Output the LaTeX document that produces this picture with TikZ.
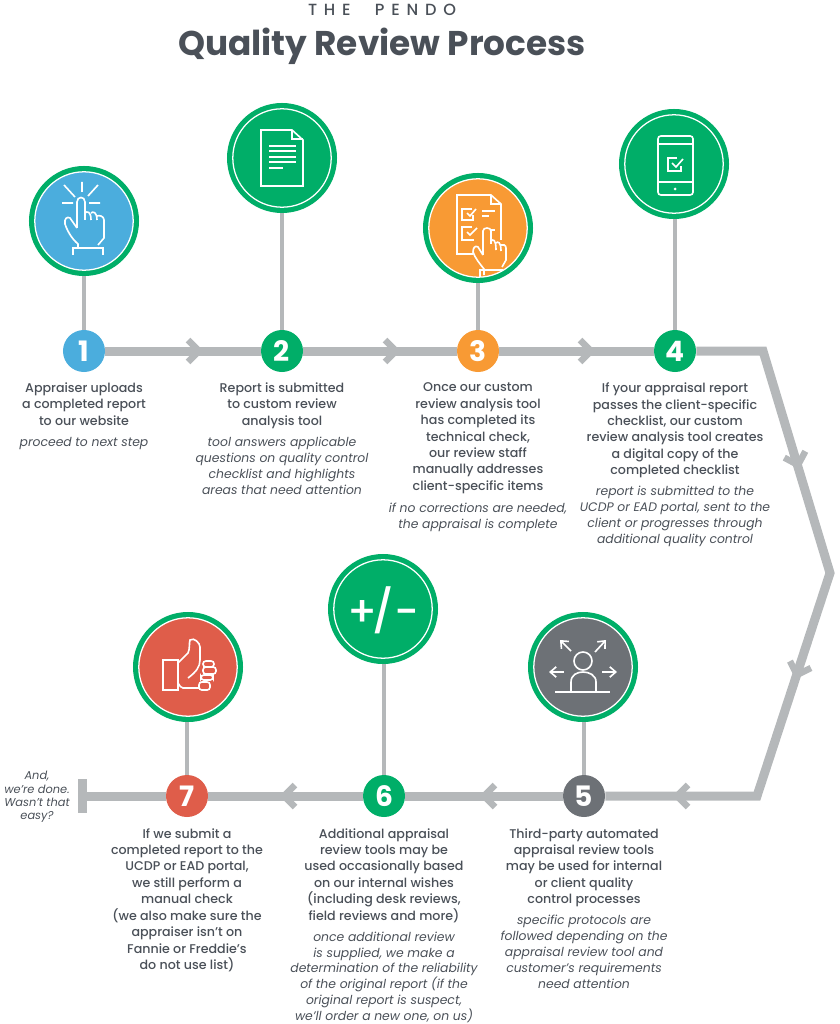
\documentclass[tikz,border=0pt]{standalone}
\usepackage{fontspec}
\setmainfont{Poppins}[UprightFont=* Medium, BoldFont=* Bold, ItalicFont=* Italic]
\usetikzlibrary{arrows.meta}
\definecolor{trackgray}{HTML}{B5B8BA}
\definecolor{ringgreen}{HTML}{00AE68}
\definecolor{clickblue}{HTML}{4BADDD}
\definecolor{checkorange}{HTML}{F89A34}
\definecolor{thumbred}{HTML}{DF5D4A}
\definecolor{peoplegray}{HTML}{6D7176}
\definecolor{bodytext}{HTML}{4A5058}
\tikzset{
	iconring/.style={circle, fill=ringgreen, inner sep=0, minimum size=2.75cm},
	icondisc/.style={circle, draw=white, line width=0.9pt, inner sep=0, minimum size=2.46cm},
	iconline/.style={draw=white, line width=1.15pt, line join=miter},
	stemline/.style={draw=trackgray, line width=2.5pt},
	trackline/.style={draw=trackgray, line width=6.4pt, line join=miter},
	chevronline/.style={draw=trackgray, line width=4.6pt},
	stepdot/.style={circle, inner sep=0, minimum size=1.05cm, text=white, font=\fontsize{20}{20}\selectfont\bfseries},
	bodyblock/.style={anchor=north, align=center, inner sep=0, text=bodytext, font=\fontsize{9}{11.7}\selectfont},
	noteblock/.style={anchor=north, align=center, inner sep=0, text=bodytext, font=\fontsize{8.8}{11.3}\selectfont\itshape},
}
\def\chevron(#1)(#2){\draw[chevronline, shift={(#1)}, rotate=#2] (-11,-11) -- (0,0) -- (-11,11);}
\begin{document}
\begin{tikzpicture}[x=0.025cm, y=-0.025cm]
		%%%%% START %%%%%
		\useasboundingbox (0,0) rectangle (840,1024);
		
		\node[inner sep=0, text=bodytext, font=\fontsize{11.5}{12}\selectfont\addfontfeature{LetterSpace=42}] (kicker) at (382,10) {THE\hspace{1.5em}PENDO};
		\node[inner sep=0, text=bodytext, font=\fontsize{24.4}{25}\selectfont\bfseries] (heading) at (382,46) {Quality Review Process};
		
		\node[stepdot, fill=clickblue] (s1) at (84,351) {1};
		\node[stepdot, fill=ringgreen] (s2) at (282,351) {2};
		\node[stepdot, fill=checkorange] (s3) at (478,351) {3};
		\node[stepdot, fill=ringgreen] (s4) at (675,351) {4};
		\node[stepdot, fill=peoplegray] (s5) at (584,796) {5};
		\node[stepdot, fill=ringgreen] (s6) at (384,796) {6};
		\node[stepdot, fill=thumbred] (s7) at (187,796) {7};
		\node[fill=trackgray, inner sep=0, minimum width=0.22cm, minimum height=0.86cm] (endbar) at (82.5,796) {};
		
		\coordinate (bendA) at (763,351);
		\coordinate (bendB) at (830,573);
		\coordinate (bendC) at (757,796);
		
		\draw[trackline] (s1) -- (s2);
		\draw[trackline] (s2) -- (s3);
		\draw[trackline] (s3) -- (s4);
		\draw[trackline] (s4) -- (bendA) -- (bendB) -- (bendC) -- (s5);
		\draw[trackline] (s5) -- (s6);
		\draw[trackline] (s6) -- (s7);
		\draw[trackline] (s7) -- (endbar);
		
		\chevron(199,351)(0);
		\chevron(396,351)(0);
		\chevron(591,351)(0);
		\chevron(798,465)(-73.2);
		\chevron(797,675)(-108.1);
		\chevron(677,796)(180);
		\chevron(484,796)(180);
		\chevron(284,796)(180);
		
		\node[iconring] (ic1) at (84,221) {};
		\node[icondisc, fill=clickblue] (disc1) at (ic1) {};
		\node[iconring] (ic2) at (282,158) {};
		\node[icondisc, fill=ringgreen] (disc2) at (ic2) {};
		\node[iconring] (ic3) at (478,228) {};
		\node[icondisc, fill=checkorange] (disc3) at (ic3) {};
		\node[iconring] (ic4) at (674,164) {};
		\node[icondisc, fill=ringgreen] (disc4) at (ic4) {};
		\node[iconring] (ic5) at (583,667) {};
		\node[icondisc, fill=peoplegray] (disc5) at (ic5) {};
		\node[iconring] (ic6) at (383,609) {};
		\node[icondisc, fill=ringgreen] (disc6) at (ic6) {};
		\node[iconring] (ic7) at (188,667) {};
		\node[icondisc, fill=thumbred] (disc7) at (ic7) {};
		
		\foreach \n in {1,...,7}
			\draw[stemline] (s\n.north) -- (s\n.north |- ic\n.south);
		
		% pointing hand
		\begin{scope}[shift={(ic1.center)}]
			\draw[iconline] (-2,-39) -- (-2,-29) (-20,-36) -- (-9,-24) (14,-36) -- (4,-25) (-22,-18) -- (-11,-18) (5,-18) -- (16,-18);
			\draw[iconline] (-7,7) -- (-7,-19) .. controls (-7,-25) and (1,-25) .. (1,-19) -- (1,-1);
			\draw[iconline] (1,-8) .. controls (3,-10) and (7,-10) .. (7,-1);
			\draw[iconline] (7,-8) .. controls (9,-10) and (13,-9) .. (13,-1);
			\draw[iconline] (13,-5) .. controls (15,-6) and (20,-5) .. (20,-1) -- (20,17) -- (14,24);
			\draw[iconline] (-7,7) -- (-14,-3) .. controls (-17,-5) and (-20,-2) .. (-19,3) .. controls (-17,9) and (-13,17) .. (-6,23) -- (-6,26);
			\draw[iconline] (-11,34) -- (-11,27) -- (19,27) -- (19,34);
		\end{scope}
		
		% document
		\begin{scope}[shift={(ic2.center)}]
			\draw[iconline] (-21,-28) -- (10,-28) -- (21,-18) -- (21,28) -- (-21,28) -- cycle;
			\draw[iconline] (10,-28) -- (10,-19) -- (21,-19);
			\foreach \y in {-12,-7,-1,4}
				\draw[iconline] (-13,\y) -- (14,\y);
			\draw[iconline] (-13,10) -- (1,10);
		\end{scope}
		
		% checklist and hand
		\begin{scope}[shift={(ic3.center)}]
			\draw[iconline] (23,12) -- (23,-24) -- (13,-33) -- (-21,-33) -- (-21,26) -- (-5,26);
			\draw[iconline] (13,-33) -- (13,-24) -- (23,-24);
			\draw[iconline] (-6,-19) -- (-16,-19) -- (-16,-8) -- (-5,-8) -- (-5,-13);
			\draw[iconline] (-11,-15) -- (-8,-12) -- (-2,-19);
			\draw[iconline] (4,-17) -- (17,-17) (4,-12) -- (11,-12);
			\draw[iconline] (-6,-1) -- (-16,-1) -- (-16,12) -- (-4,12);
			\draw[iconline] (-11,4) -- (-8,7) -- (-1,0);
			\draw[iconline] (13,2) -- (17,2);
			\draw[iconline] (5,27) -- (5,3) .. controls (5,-1) and (13,-1) .. (13,3) -- (13,16);
			\draw[iconline] (13,13) .. controls (15,11) and (18,11) .. (18,22);
			\draw[iconline] (18,15) .. controls (20,13) and (23,14) .. (23,23);
			\draw[iconline] (23,17) .. controls (25,16) and (28,17) .. (28,20) -- (28,32) -- (24,39);
			\draw[iconline] (5,27) -- (0,19) .. controls (-3,17) and (-5,20) .. (-5,24) .. controls (-3,30) and (2,36) .. (6,41) -- (6,47);
			\draw[iconline] (2,49) -- (2,42) -- (25,42);
		\end{scope}
		
		% phone
		\begin{scope}[shift={(ic4.center)}]
			\draw[iconline, rounded corners=2pt] (-16,-28) rectangle (19,31);
			\draw[iconline] (-16,-20) -- (19,-20) (-16,18) -- (19,18);
			\fill[white] (1,25) circle (1.5);
			\draw[iconline] (3,-6) -- (-6,-6) -- (-6,7) -- (7,7) -- (7,2);
			\draw[iconline] (-2,-1) -- (2,3) -- (9,-5);
		\end{scope}
		
		% person with arrows
		\begin{scope}[shift={(ic5.center)}]
			\draw[iconline] (0,-6) circle (9);
			\draw[iconline] (-12,24) -- (-12,15) .. controls (-12,8) and (-6,5) .. (0,5) .. controls (6,5) and (13,8) .. (13,15) -- (13,24);
			\draw[iconline] (-28,25) -- (27,25);
			\draw[iconline, -{Straight Barb[length=1.5mm,width=2.6mm]}] (-19,5) -- (-34,5);
			\draw[iconline, -{Straight Barb[length=1.5mm,width=2.6mm]}] (19,5) -- (34,5);
			\draw[iconline, -{Straight Barb[length=1.5mm,width=2.6mm]}] (-12,-16) -- (-23,-27);
			\draw[iconline, -{Straight Barb[length=1.5mm,width=2.6mm]}] (12,-15) -- (23,-27);
		\end{scope}
		
		% plus minus
		\node[inner sep=0, text=white, font=\fontsize{30}{30}\selectfont] (plusminus) at (383,610) {+\kern-0.12em/-};
		
		% thumb up
		\begin{scope}[shift={(ic7.center)}]
			\draw[iconline] (-25,-7) rectangle (-10,23);
			\draw[iconline] (-10,-4) -- (0,-14) .. controls (2,-18) and (1,-24) .. (2,-27) .. controls (6,-30) and (12,-24) .. (12,-20) -- (12,-7) .. controls (12,0) and (8,5) .. (0,11);
			\draw[iconline] (-10,16) .. controls (-8,19) and (-7,21) .. (-5,21) -- (11,21);
			\draw[iconline, rounded corners=2pt] (15,-6) rectangle (26,0);
			\draw[iconline, rounded corners=2pt] (15,0) rectangle (28,7);
			\draw[iconline, rounded corners=2pt] (13,8) rectangle (25,13);
			\draw[iconline, rounded corners=2pt] (11,15) rectangle (22,23);
		\end{scope}
		
		\node[bodyblock] (txt1) at (84,382.5) {Appraiser uploads\\a completed report\\to our website};
		\node[noteblock] (note1) at (84,437) {proceed to next step};
		
		\node[bodyblock] (txt2) at (282,382.5) {Report is submitted\\to custom review\\analysis tool};
		\node[noteblock] (note2) at (282,437) {tool answers applicable\\questions on quality control\\checklist and highlights\\areas that need attention};
		
		\node[bodyblock] (txt3) at (478,382.5) {Once our custom\\review analysis tool\\has completed its\\technical check,\\our review staff\\manually addresses\\client-specific items};
		\node[noteblock] (note3) at (478,503) {if no corrections are needed,\\the appraisal is complete};
		
		\node[bodyblock] (txt4) at (675,382.5) {If your appraisal report\\passes the client-specific\\checklist, our custom\\review analysis tool creates\\a digital copy of the\\completed checklist};
		\node[noteblock] (note4) at (675,486) {report is submitted to the\\UCDP or EAD portal, sent to the\\client or progresses through\\additional quality control};
		
		\node[bodyblock] (txt5) at (584,828) {Third-party automated\\appraisal review tools\\may be used for internal\\or client quality\\control processes};
		\node[noteblock] (note5) at (584,915) {specific protocols are\\followed depending on the\\appraisal review tool and\\customer's requirements\\need attention};
		
		\node[bodyblock] (txt6) at (384,828) {Additional appraisal\\review tools may be\\used occasionally based\\on our internal wishes\\(including desk reviews,\\field reviews and more)};
		\node[noteblock] (note6) at (384,931.5) {once additional review\\is supplied, we make a\\determination of the reliability\\of the original report (if the\\original report is suspect,\\we'll order a new one, on us)};
		
		\node[bodyblock] (txt7) at (187,828) {If we submit a\\completed report to the\\UCDP or EAD portal,\\we still perform a\\manual check\\(we also make sure the\\appraiser isn't on\\Fannie or Freddie's\\do not use list)};
		
		\node[noteblock, font=\fontsize{8.1}{9.5}\selectfont\itshape] (finish) at (37,771) {And,\\we're done.\\Wasn't that\\easy?};
		%%%%% END %%%%%
	\end{tikzpicture}
\end{document}
